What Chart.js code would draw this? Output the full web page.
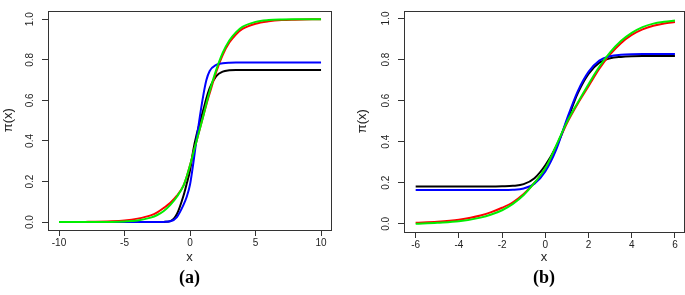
<!DOCTYPE html>
<html><head><meta charset="utf-8">
<script src="https://cdn.jsdelivr.net/npm/chart.js@4/dist/chart.umd.min.js"></script>
<style>
html,body{margin:0;padding:0;background:#fff;width:685px;height:295px;overflow:hidden;}
#ca{position:absolute;left:0;top:0;}
#cb{position:absolute;left:342px;top:0;}
</style></head><body>
<canvas id="ca" width="342" height="295"></canvas>
<canvas id="cb" width="343" height="295"></canvas>
<script>
// ---------- Panel (a) data ----------
const xA     = [-10, -8, -6, -5, -4, -3, -2.5, -2, -1.5, -1, -0.5, -0.25, 0, 0.25, 0.5, 0.75, 1, 1.25, 1.5, 2, 2.5, 3, 3.5, 4, 5, 6, 7, 8, 10];
const redA   = [0, 0.001, 0.004, 0.008, 0.017, 0.033, 0.048, 0.07, 0.095, 0.13, 0.18, 0.225, 0.28, 0.34, 0.4, 0.46, 0.52, 0.58, 0.635, 0.74, 0.825, 0.885, 0.925, 0.952, 0.978, 0.99, 0.996, 0.998, 1.0];
const greenA = [0, 0, 0.001, 0.003, 0.008, 0.022, 0.035, 0.055, 0.085, 0.125, 0.18, 0.225, 0.28, 0.34, 0.4, 0.46, 0.52, 0.585, 0.645, 0.75, 0.835, 0.895, 0.935, 0.962, 0.987, 0.996, 0.999, 1.0, 1.0];
const blueA  = [0, 0, 0, 0, 0, 0, 0, 0.001, 0.004, 0.025, 0.085, 0.125, 0.185, 0.29, 0.41, 0.52, 0.62, 0.70, 0.745, 0.775, 0.783, 0.786, 0.787, 0.787, 0.787, 0.787, 0.787, 0.787, 0.787];
const blackA = [0, 0, 0, 0, 0, 0, 0, 0.001, 0.005, 0.04, 0.13, 0.19, 0.255, 0.355, 0.43, 0.49, 0.55, 0.61, 0.66, 0.72, 0.742, 0.748, 0.75, 0.75, 0.75, 0.75, 0.75, 0.75, 0.75];
const xTicksA = [-10, -5, 0, 5, 10];

// ---------- Panel (b) data ----------
const xB     = [-6, -5, -4, -3, -2.5, -2, -1.5, -1, -0.5, 0, 0.5, 1, 1.5, 2, 2.5, 3, 3.5, 4, 4.5, 5, 5.5, 6];
const redB   = [0.005, 0.01, 0.02, 0.04, 0.057, 0.078, 0.105, 0.145, 0.2, 0.265, 0.375, 0.49, 0.585, 0.67, 0.755, 0.825, 0.88, 0.92, 0.947, 0.965, 0.976, 0.983];
const greenB = [0.0, 0.005, 0.012, 0.03, 0.045, 0.066, 0.097, 0.14, 0.2, 0.27, 0.38, 0.495, 0.59, 0.68, 0.765, 0.835, 0.89, 0.93, 0.958, 0.975, 0.984, 0.99];
const blueB  = [0.165, 0.165, 0.165, 0.165, 0.165, 0.165, 0.166, 0.172, 0.195, 0.255, 0.36, 0.51, 0.645, 0.74, 0.795, 0.816, 0.823, 0.826, 0.827, 0.827, 0.827, 0.827];
const blackB = [0.182, 0.182, 0.182, 0.182, 0.182, 0.183, 0.185, 0.193, 0.222, 0.285, 0.375, 0.5, 0.635, 0.73, 0.785, 0.806, 0.813, 0.816, 0.817, 0.817, 0.817, 0.817];
const xTicksB = [-6, -4, -2, 0, 2, 4, 6];

const yTicks = [0, 0.2, 0.4, 0.6, 0.8, 1.0];
const panelTitles = ['(a)', '(b)'];
const axisTitleX = 'x';
const axisTitleY = 'π(x)';

Chart.defaults.font.family = "'Liberation Sans', Arial, sans-serif";

const boxPlugin = {
  id: 'box',
  afterDraw(chart) {
    const {ctx, chartArea: a} = chart;
    ctx.save();
    ctx.strokeStyle = '#333';
    ctx.lineWidth = 1;
    ctx.strokeRect(Math.round(a.left) + 0.5, Math.round(a.top) + 0.5,
                   Math.round(a.right) - Math.round(a.left), Math.round(a.bottom) - Math.round(a.top));
    ctx.restore();
  }
};

function pts(xs, ys) { return xs.map((x, i) => ({x: x, y: ys[i]})); }

function ds(xs, ys, color) {
  return {data: pts(xs, ys), borderColor: color, backgroundColor: color, borderWidth: 2,
          pointRadius: 0, showLine: true, fill: false, cubicInterpolationMode: 'monotone'};
}

function makeChart(id, cfg) {
  const tickFont = {family: "'Liberation Sans', Arial, sans-serif", size: 10};
  const gridOpt = {drawOnChartArea: false, drawTicks: true, tickLength: 6, color: '#333', tickColor: '#333', lineWidth: 1};
  return new Chart(document.getElementById(id), {
    type: 'scatter',
    data: {datasets: [
      ds(cfg.xs, cfg.green, '#00ee00'),
      ds(cfg.xs, cfg.blue, '#0000ff'),
      ds(cfg.xs, cfg.red, '#ff0000'),
      ds(cfg.xs, cfg.black, '#000000')
    ]},
    options: {
      responsive: false, animation: false, devicePixelRatio: 1,
      layout: {padding: cfg.pad},
      plugins: {
        legend: {display: false}, tooltip: {enabled: false},
        title: {display: true, text: cfg.title, position: 'bottom', fullSize: false,
                font: {family: "'Liberation Serif', 'Times New Roman', serif", size: 18, weight: 'bold'},
                color: '#000', padding: {top: 0, bottom: 6.2}}
      },
      scales: {
        x: {
          type: 'linear', min: cfg.xmin, max: cfg.xmax,
          afterBuildTicks: s => { s.ticks = cfg.xticks.map(v => ({value: v})); },
          afterFit: s => { s.height = cfg.xh; },
          grid: gridOpt, border: {display: false},
          ticks: {font: tickFont, color: '#222', padding: 1, maxRotation: 0, minRotation: 0, autoSkip: false,
                  callback: v => String(v)},
          title: {display: true, text: axisTitleX, color: '#222',
                  font: {family: "'Liberation Sans', Arial, sans-serif", size: 13}, padding: {top: 0, bottom: 1.5}}
        },
        y: {
          type: 'linear', min: cfg.ymin, max: cfg.ymax,
          afterBuildTicks: s => { s.ticks = yTicks.map(v => ({value: v})); },
          afterFit: s => { s.width = cfg.yw; },
          grid: gridOpt, border: {display: false},
          ticks: {font: tickFont, color: '#222', padding: 4.5, minRotation: 90, maxRotation: 90, crossAlign: 'center',
                  autoSkip: false, callback: v => Number(v).toFixed(1)},
          title: {display: true, text: axisTitleY, color: '#222',
                  font: {family: "'Liberation Sans', Arial, sans-serif", size: 13}, padding: {top: cfg.ytp, bottom: 0}}
        }
      }
    },
    plugins: [boxPlugin]
  });
}

makeChart('ca', {xs: xA, red: redA, green: greenA, blue: blueA, black: blackA, xticks: xTicksA,
  xmin: -10.84, xmax: 10.76, ymin: -0.039, ymax: 1.043, pad: {left: 0, right: 11, top: 2, bottom: 0},
  xh: 37.2, yw: 48, ytp: 0.5, title: panelTitles[0]});

makeChart('cb', {xs: xB, red: redB, green: greenB, blue: blueB, black: blackB, xticks: xTicksB,
  xmin: -6.54, xmax: 6.42, ymin: -0.04, ymax: 1.039, pad: {left: 0, right: 1, top: 0, bottom: 0},
  xh: 35.2, yw: 62, ytp: 13, title: panelTitles[1]});
</script>
</body></html>
